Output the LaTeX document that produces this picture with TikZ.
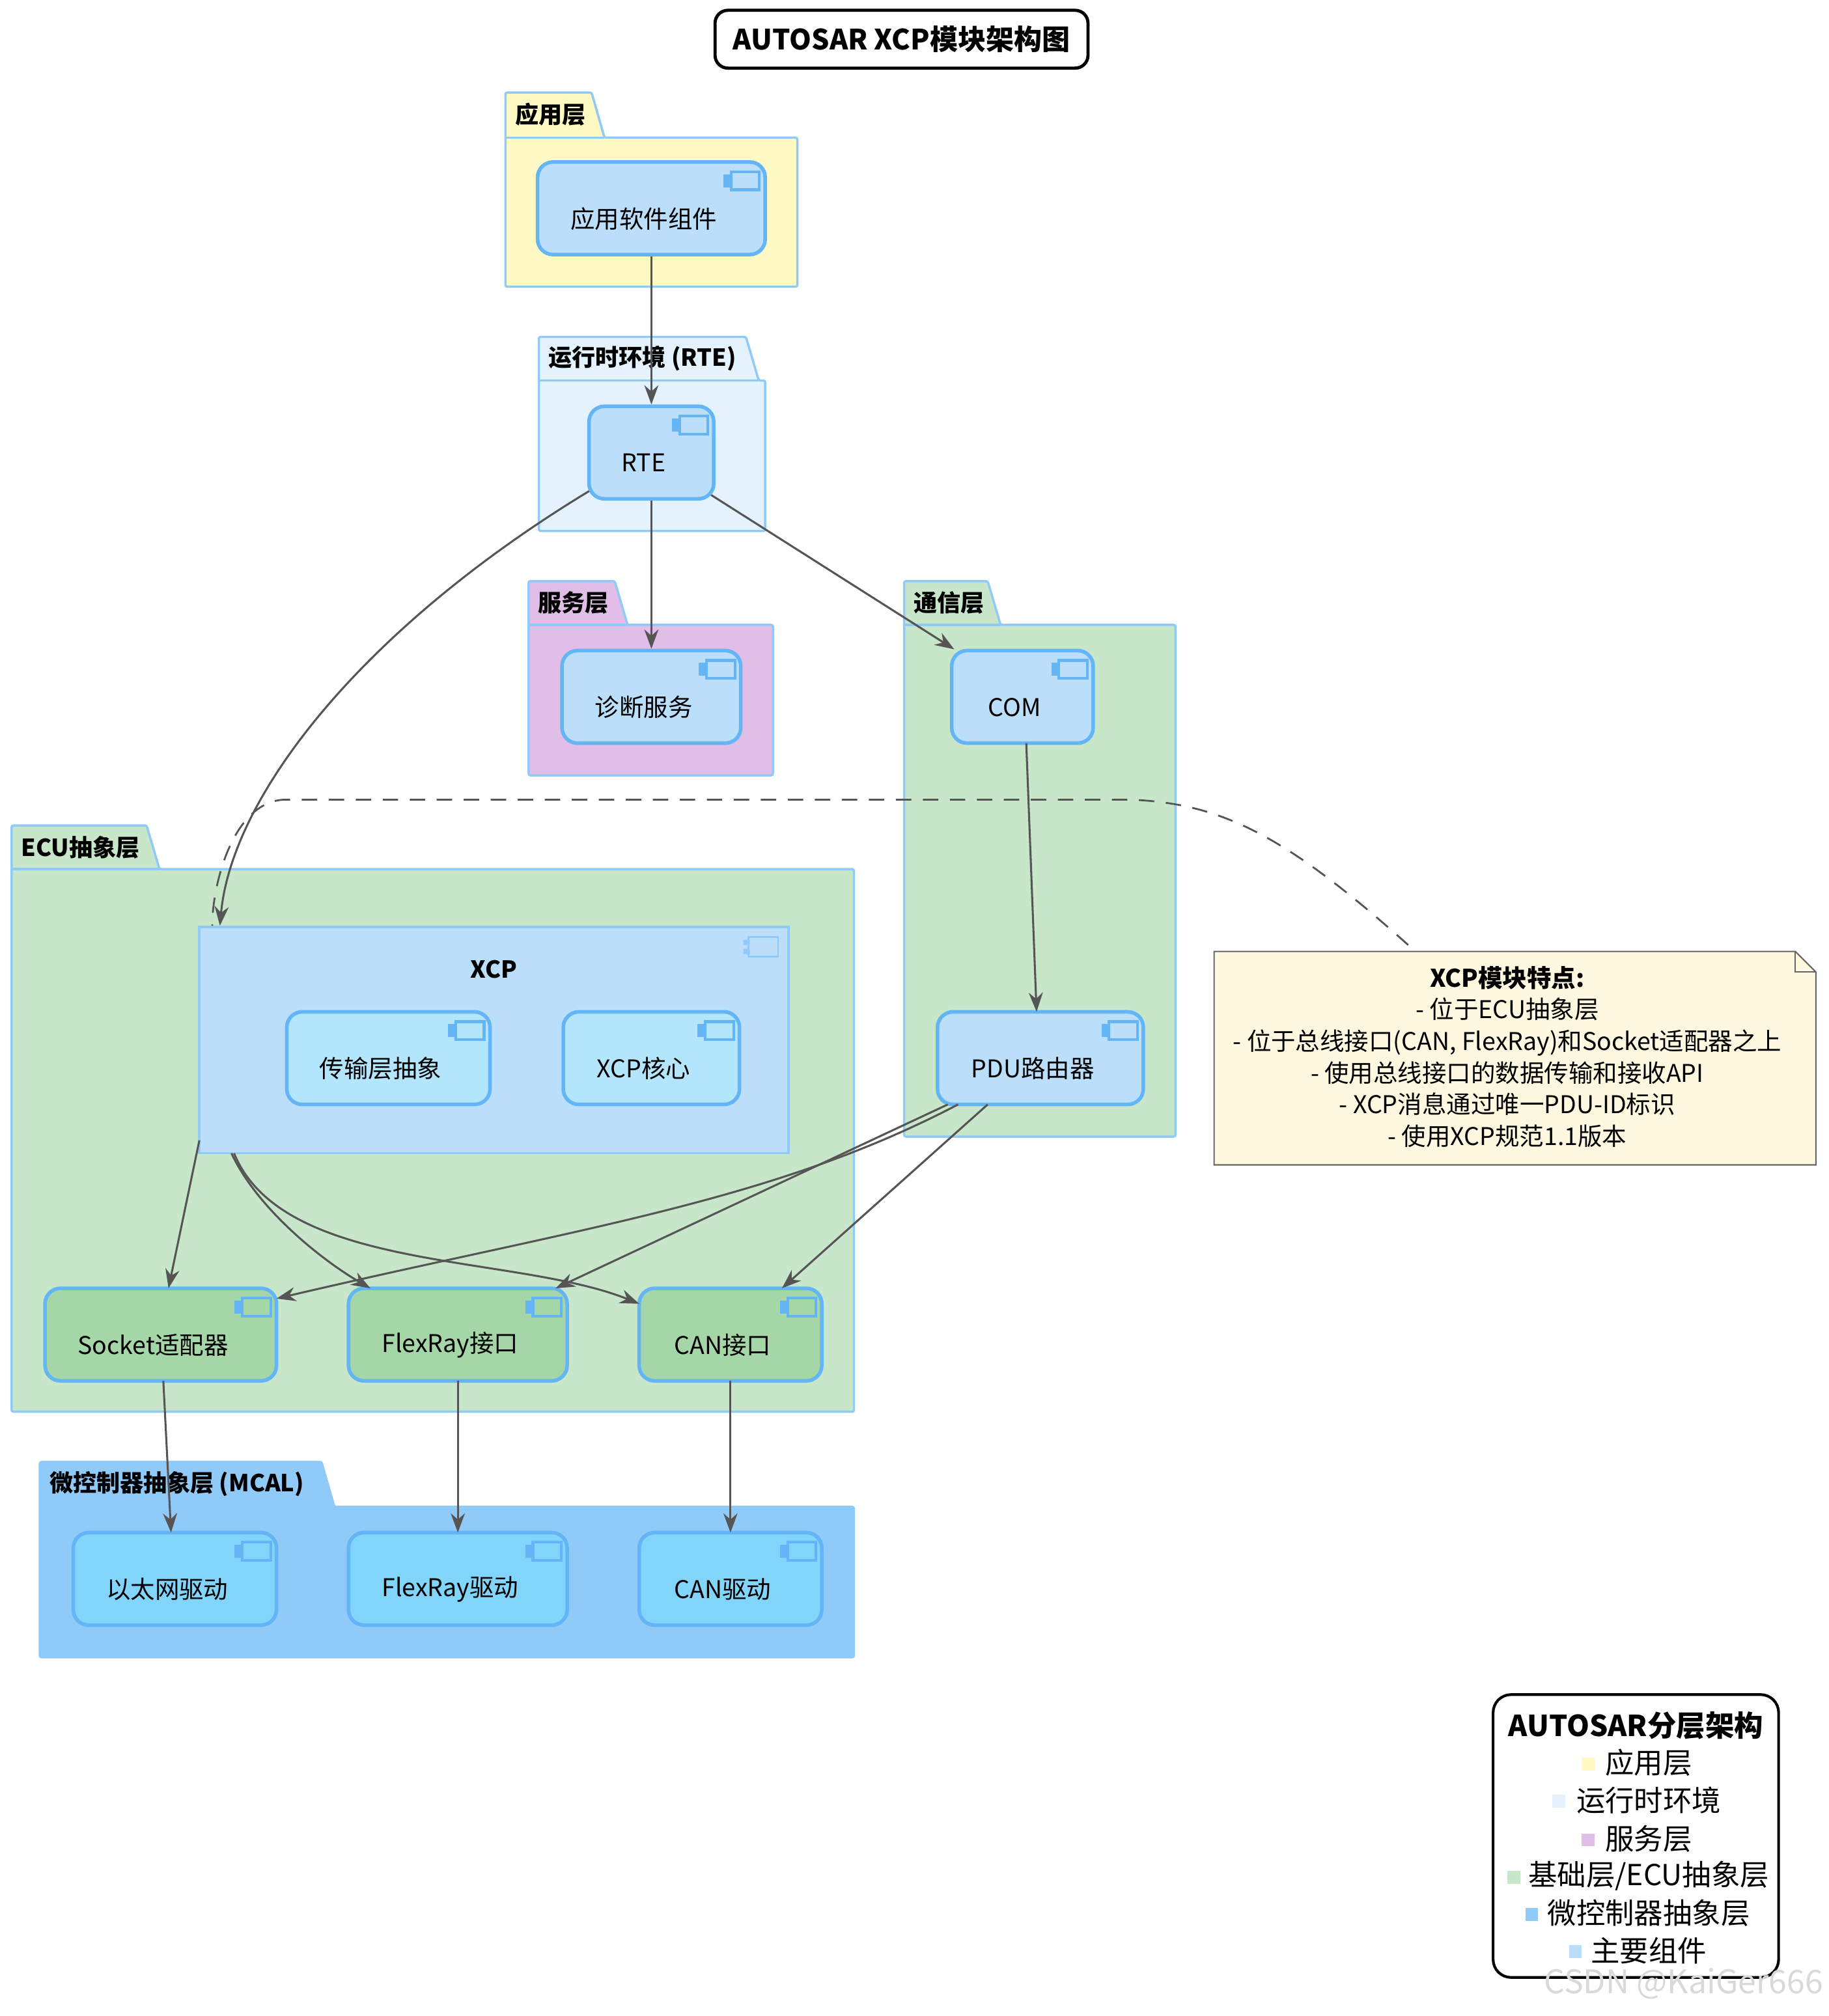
\documentclass[tikz,border=0pt]{standalone}
\usepackage{fontspec}
\setmainfont{Noto Sans CJK SC}
\usetikzlibrary{fit,arrows.meta,calc}
\definecolor{bord}{HTML}{64B5F6}
\definecolor{pbord}{HTML}{90CAF9}
\definecolor{comp}{HTML}{BBDEFB}
\definecolor{arr}{HTML}{555555}
\definecolor{cyel}{HTML}{FFF9C4}
\definecolor{crte}{HTML}{E3F2FD}
\definecolor{cvio}{HTML}{E1BEE7}
\definecolor{cgrn}{HTML}{C8E6C9}
\definecolor{cgrn2}{HTML}{A5D6A7}
\definecolor{ccyan}{HTML}{B3E5FC}
\definecolor{cdrv}{HTML}{81D4FA}
\definecolor{cnote}{HTML}{FFF8E1}
\tikzset{
 cbox/.style={draw=bord,line width=4pt,rounded corners=0.6cm,inner sep=0pt},
 ctext/.style={font=\fontsize{27}{31}\selectfont,anchor=center},
 ptext/.style={font=\bfseries\fontsize{26}{30}\selectfont,anchor=west},
 pk/.style={draw=pbord,line width=2.5pt,rounded corners=2pt},
 edge/.style={draw=arr,line width=2.2pt,-{Stealth[length=0.75cm,width=0.55cm]}},
}
\newcommand{\comp}[7]{%
 \node[cbox,fill=#6,fit={(#2,#3)(#4,#5)}] (#1) {};
 \node[ctext] at ($(#1.center)+(-6,8)$) {#7};
 \draw[draw=bord,fill=#6,line width=3pt] ($(#1.north east)+(-28,9)$) rectangle ($(#1.north east)+(-6,23)$);
 \fill[bord] ($(#1.north east)+(-34,11)$) rectangle ($(#1.north east)+(-28,21)$);}
\newcommand{\pkg}[8]{%
 \draw[pk,fill=#7] (#1,#3) -- (#1,#2) -- (#1+#6,#2) -- (#1+#6+10,#3) -- (#4,#3) -- (#4,#5) -- (#1,#5) -- cycle;
 \draw[pk] (#1,#3) -- (#1+#6+10,#3);
 \node[ptext] at (#1+5,#2+17) {#8};}
\begin{document}
\begin{tikzpicture}[x=0.05cm,y=-0.05cm]
\useasboundingbox[fill=white] (0,0) rectangle (1422,1568);
% title
\node[draw,line width=3.5pt,rounded corners=0.5cm,fit={(556,8)(846,53)},inner sep=0] (title) {};
\node[font=\bfseries\fontsize{31}{35}\selectfont] at (title.center) {AUTOSAR XCP模块架构图};
% packages
\pkg{393}{72}{107}{620}{223}{67}{cyel}{应用层}
\pkg{419}{262}{296}{595}{413}{161}{crte}{运行时环境 (RTE)}
\pkg{411}{452}{486}{601}{603}{67}{cvio}{服务层}
\pkg{703}{452}{486}{914}{884}{65}{cgrn}{通信层}
\pkg{9}{642}{676}{664}{1098}{105}{cgrn}{ECU抽象层}
\pkg{31}{1137}{1172}{664}{1289}{219}{pbord}{微控制器抽象层 (MCAL)}
% XCP box
\node[draw=pbord,line width=2.5pt,fill=comp,fit={(155,721)(613,897)},inner sep=0] (xcp) {};
\node[font=\bfseries\fontsize{26}{30}\selectfont] at (384,754) {XCP};
\draw[draw=pbord,line width=2pt] (582,729) rectangle (605,744);
\fill[pbord] (578,731) rectangle (583,735) (578,738) rectangle (583,742);
% components
\comp{app}{418}{126}{595}{198}{comp}{应用软件组件}
\comp{rte}{458}{316}{555}{388}{comp}{RTE}
\comp{diag}{437}{506}{576}{578}{comp}{诊断服务}
\comp{com}{740}{506}{850}{578}{comp}{COM}
\comp{pdu}{729}{787}{889}{859}{comp}{PDU路由器}
\comp{trans}{223}{787}{381}{859}{ccyan}{传输层抽象}
\comp{core}{438}{787}{575}{859}{ccyan}{XCP核心}
\comp{sock}{35}{1002}{215}{1074}{cgrn2}{Socket适配器}
\comp{frif}{271}{1002}{441}{1074}{cgrn2}{FlexRay接口}
\comp{canif}{497}{1002}{639}{1074}{cgrn2}{CAN接口}
\comp{eth}{57}{1192}{215}{1264}{cdrv}{以太网驱动}
\comp{frdrv}{271}{1192}{441}{1264}{cdrv}{FlexRay驱动}
\comp{candrv}{497}{1192}{639}{1264}{cdrv}{CAN驱动}
% note
\draw[draw=gray!80!black,line width=1.5pt,fill=cnote] (944,740) -- (1396,740) -- (1412,756) -- (1412,906) -- (944,906) -- cycle;
\draw[draw=gray!80!black,line width=1.5pt] (1396,740) -- (1396,756) -- (1412,756);
\node[font=\fontsize{27}{35}\selectfont,align=center,anchor=north] (note) at (1172,749)
 {\textbf{XCP模块特点:}\\- 位于ECU抽象层\\- 位于总线接口(CAN, FlexRay)和Socket适配器之上\\- 使用总线接口的数据传输和接收API\\- XCP消息通过唯一PDU-ID标识\\- 使用XCP规范1.1版本};
\coordinate (nt) at (1095,735);
\draw[arr,line width=2pt,dash pattern=on 0.6cm off 0.45cm] (nt) .. controls (1000,650) and (950,625) .. (880,622) -- (220,622) .. controls (180,625) and (165,690) .. (165,720);
% edges
\draw[edge] (app.south) -- (rte.north);
\draw[edge] (rte.south) -- (diag.north);
\draw[edge] (553,385) -- (742,505);
\draw[edge] (458,382) .. controls (280,490) and (180,620) .. (171,720);
\draw[edge] (798,578) -- (806,787);
\draw[edge] (155,887) -- (131,1002);
\draw[edge] (180,897) .. controls (200,940) and (250,980) .. (288,1002);
\draw[edge] (182,897) .. controls (220,990) and (400,975) .. (497,1014);
\draw[edge] (745,859) .. controls (600,935) and (450,955) .. (215,1010);
\draw[edge] (737,859) -- (432,1002);
\draw[edge] (768,859) -- (608,1002);
\draw[edge] (127,1074) -- (133,1192);
\draw[edge] (356,1074) -- (356,1192);
\draw[edge] (568,1074) -- (568,1192);
% legend
\node[draw,line width=3pt,rounded corners=0.7cm,fit={(1161,1318)(1383,1538)},inner sep=0] (leg) {};
\begin{scope}[font=\fontsize{32}{36}\selectfont]
\node[font=\bfseries\fontsize{32}{36}\selectfont] at (1272,1342) {AUTOSAR分层架构};
\node at (1282,1371) {应用层}; \fill[cyel] (1230,1367) rectangle (1240,1377);
\node at (1282,1400) {运行时环境}; \fill[crte] (1207,1396) rectangle (1217,1406);
\node at (1282,1430) {服务层}; \fill[cvio] (1230,1426) rectangle (1240,1436);
\node at (1282,1459) {基础层/ECU抽象层}; \fill[cgrn] (1172,1455) rectangle (1182,1465);
\node at (1282,1488) {微控制器抽象层}; \fill[pbord] (1186,1484) rectangle (1196,1494);
\node at (1282,1517) {主要组件}; \fill[comp] (1220,1513) rectangle (1230,1523);
\end{scope}
\node[font=\fontsize{36}{40}\selectfont,text=gray!30,anchor=east] at (1420,1543) {CSDN @KaiGer666};
\end{tikzpicture}
\end{document}
